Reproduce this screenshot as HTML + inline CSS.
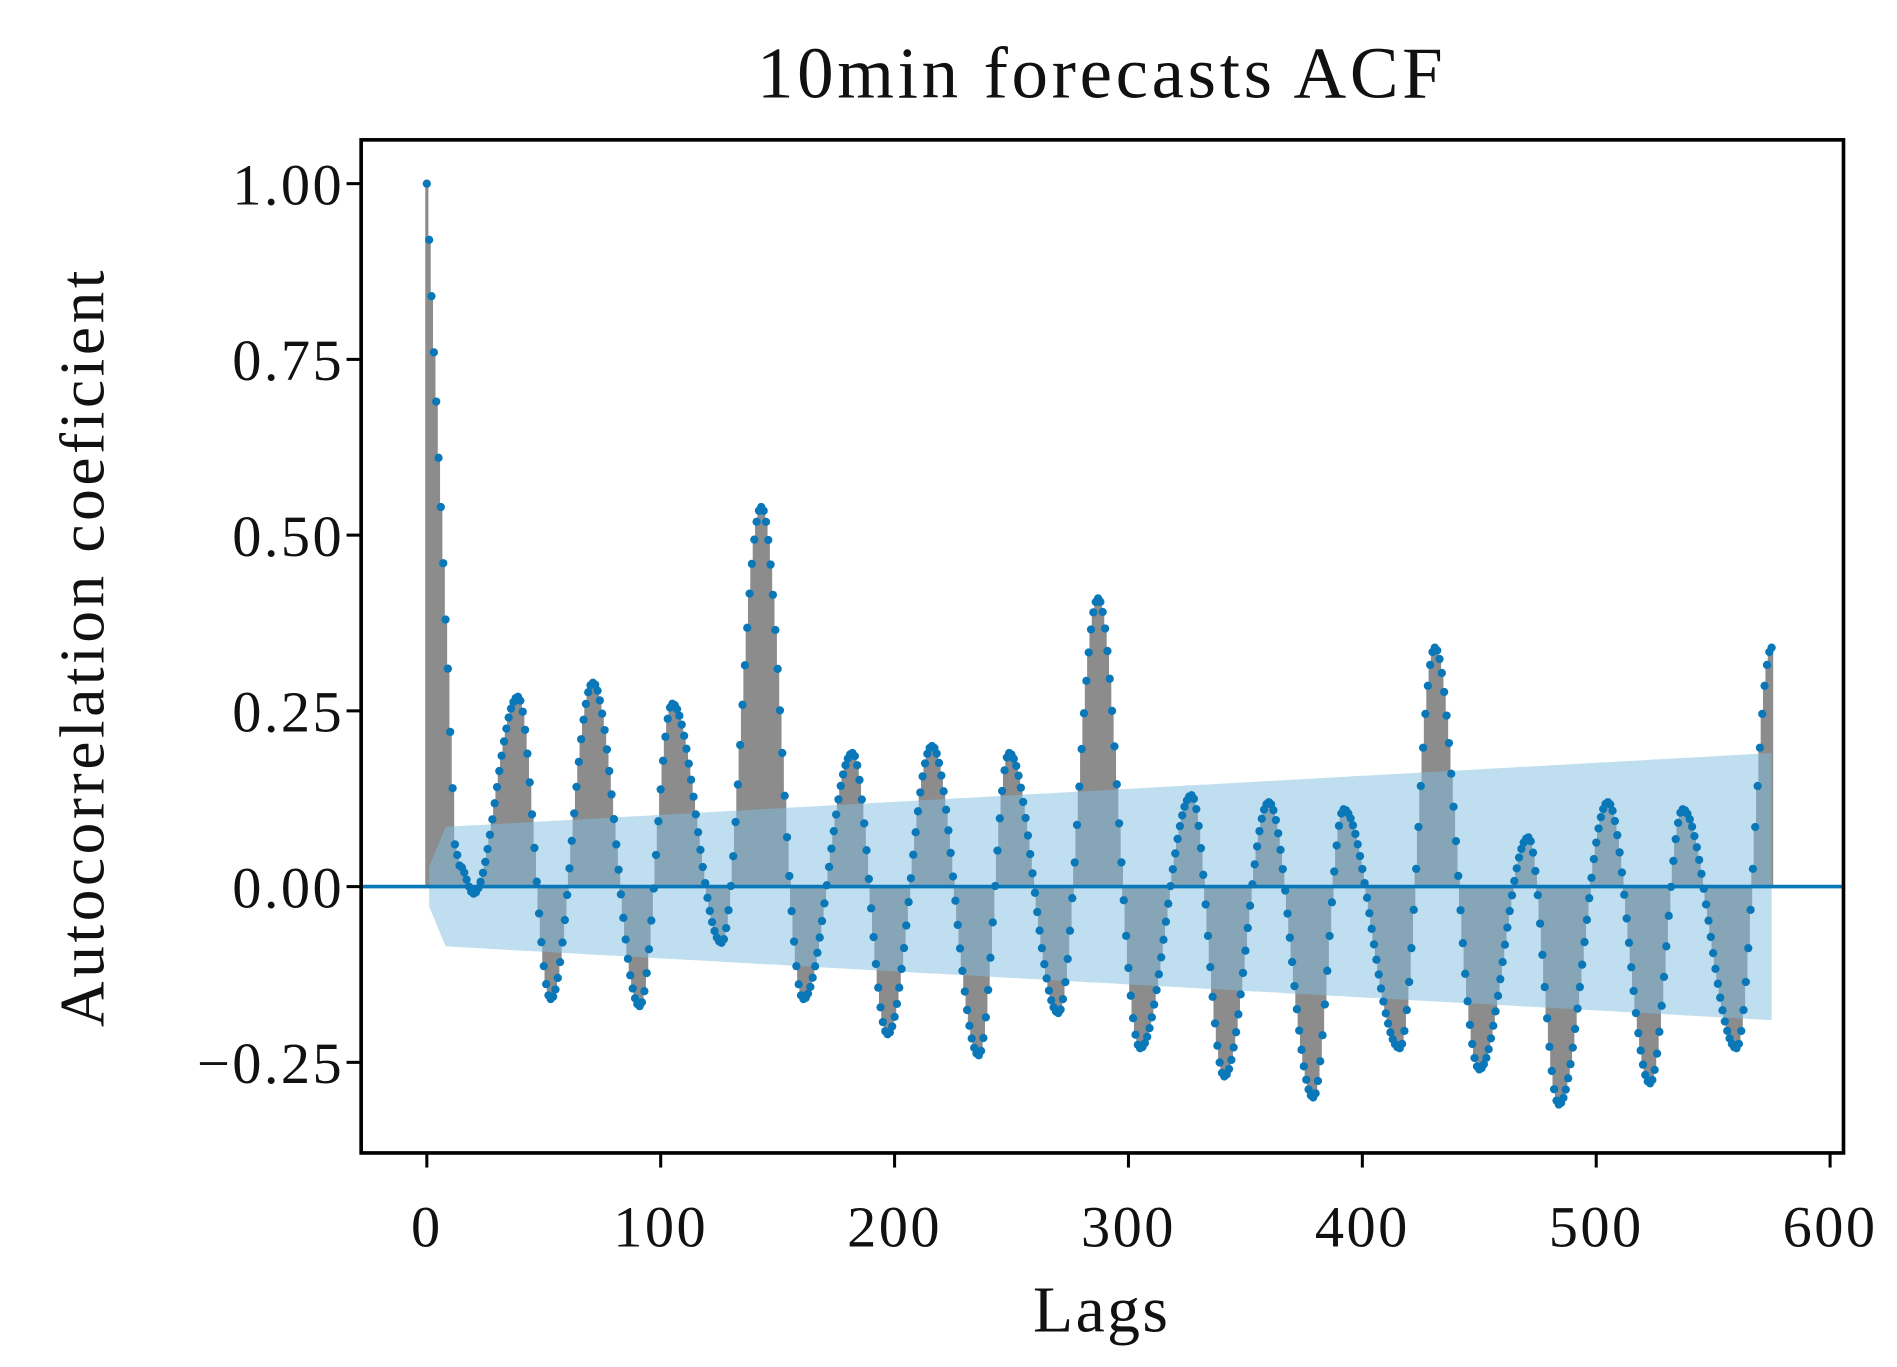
<!DOCTYPE html>
<html><head><meta charset="utf-8"><style>html,body{margin:0;padding:0;background:#fff}svg{display:block}</style></head>
<body>
<svg id="s" width="1897" height="1367" viewBox="0 0 1560 1124" preserveAspectRatio="none" xmlns="http://www.w3.org/2000/svg" font-family="Liberation Serif, serif">
<rect width="1560" height="1124" fill="#fff"/>
<g id="stems"></g>
<path id="band" fill="#7fbde0" fill-opacity="0.5"/>
<line x1="297" x2="1516" y1="729" y2="729" stroke="#0a78b8" stroke-width="3"/>
<g id="dots" fill="#0a78b8"></g>
<rect x="297" y="115" width="1219" height="833" fill="none" stroke="#000" stroke-width="3"/>
<g id="ticks" stroke="#000" stroke-width="2.5"></g>
<g id="lbl" font-size="48" fill="#111" letter-spacing="2"></g>
<text x="906" y="80" font-size="60" text-anchor="middle" fill="#111" letter-spacing="3">10min forecasts ACF</text>
<text x="906" y="1095" font-size="54" text-anchor="middle" fill="#111" letter-spacing="2">Lags</text>
<text transform="translate(85,532) rotate(-90)" font-size="52" text-anchor="middle" fill="#111" letter-spacing="3">Autocorrelation coeficient</text>
</svg>
<script>
const X=l=>351+l*1.9233, Y=v=>729-v*578;
const kp=[[0,1],[1,.92],[2,.84],[3,.76],[4,.69],[5,.61],[6,.54],[7,.46],[8,.38],[9,.31],[10,.22],[11,.14],[12,.06],[14,.03],[20,-.01],[39,.27],[53,-.16],[71,.29],[91,-.17],[105,.26],[126,-.08],[143,.54],[161,-.16],[182,.19],[197,-.21],[216,.2],[236,-.24],[249,.19],[270,-.18],[287,.41],[305,-.23],[327,.13],[341,-.27],[360,.12],[379,-.3],[392,.11],[416,-.23],[431,.34],[450,-.26],[471,.07],[484,-.31],[505,.12],[523,-.28],[537,.11],[560,-.23],[575,.34]];
function val(l){for(let i=0;i<kp.length-1;i++){const[a,va]=kp[i],[b,vb]=kp[i+1];if(l>=a&&l<=b){if(i<13)return va+(vb-va)*(l-a)/(b-a);const t=(l-a)/(b-a);return va+(vb-va)*(1-Math.cos(Math.PI*t))/2;}}return .34;}
let st='',dt='';
for(let l=0;l<=575;l++){const v=val(l),x=X(l).toFixed(1);st+=`<line x1="${x}" x2="${x}" y1="729" y2="${Y(v).toFixed(1)}"/>`;dt+=`<circle cx="${x}" cy="${Y(v).toFixed(1)}" r="3.4"/>`;}
document.getElementById('stems').innerHTML='<g stroke="#8c8c8c" stroke-width="2.6">'+st+'</g>';
document.getElementById('dots').innerHTML=dt;
const c=l=>l<1?0:(l<8?0.02+0.065*(l/8):0.085+(l-8)*(0.19-0.085)/567);
let up=[],dn=[];for(let l=1;l<=575;l++){up.push(X(l).toFixed(1)+','+Y(c(l)).toFixed(1));dn.unshift(X(l).toFixed(1)+','+Y(-c(l)).toFixed(1));}
document.getElementById('band').setAttribute('d','M'+up.join('L')+'L'+dn.join('L')+'Z');
let tk='',lb='';
for(let i=0;i<=6;i++){const x=X(i*100);tk+=`<line x1="${x}" x2="${x}" y1="948" y2="960"/>`;lb+=`<text x="${x}" y="1025" text-anchor="middle">${i*100}</text>`;}
[1,.75,.5,.25,0,-.25].forEach(v=>{const y=Y(v);tk+=`<line x1="285" x2="297" y1="${y}" y2="${y}"/>`;lb+=`<text x="283" y="${y+17}" text-anchor="end">${v<0?'\u22120.25':v.toFixed(2)}</text>`;});
document.getElementById('ticks').innerHTML=tk;document.getElementById('lbl').innerHTML=lb;
</script>
</body></html>
